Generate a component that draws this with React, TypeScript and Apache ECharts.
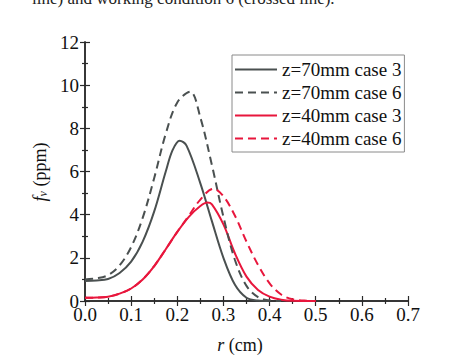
import React, { useEffect, useRef } from "react";
import * as echarts from "echarts";

// r (cm) and f_v (ppm)
const grey3X = [0, 0.025, 0.05, 0.075, 0.1, 0.125, 0.15, 0.175, 0.19, 0.205, 0.22, 0.25, 0.275, 0.3, 0.325, 0.35, 0.375, 0.4];
const grey3Y = [0.93, 0.95, 1.02, 1.3, 1.82, 2.75, 4.15, 6.0, 7.0, 7.43, 7.2, 5.45, 3.7, 2.0, 0.75, 0.15, 0.02, 0];

const grey6X = [0, 0.025, 0.05, 0.075, 0.1, 0.125, 0.15, 0.175, 0.2, 0.228, 0.25, 0.275, 0.3, 0.325, 0.35, 0.375, 0.4, 0.425];
const grey6Y = [1.0, 1.05, 1.2, 1.65, 2.5, 3.85, 5.7, 7.75, 9.2, 9.7, 8.5, 6.3, 3.9, 1.9, 0.7, 0.18, 0.03, 0];

const red3X = [0, 0.025, 0.05, 0.075, 0.1, 0.125, 0.15, 0.175, 0.2, 0.225, 0.25, 0.265, 0.275, 0.3, 0.325, 0.35, 0.375, 0.4, 0.425, 0.45, 0.5];
const red3Y = [0.15, 0.16, 0.2, 0.34, 0.58, 1.0, 1.62, 2.4, 3.2, 3.9, 4.4, 4.56, 4.48, 3.55, 2.2, 1.13, 0.51, 0.2, 0.06, 0.01, 0];

const red6X = [0, 0.025, 0.05, 0.075, 0.1, 0.125, 0.15, 0.175, 0.2, 0.225, 0.25, 0.278, 0.3, 0.325, 0.35, 0.375, 0.4, 0.425, 0.45, 0.475, 0.5];
const red6Y = [0.15, 0.16, 0.2, 0.34, 0.58, 1.0, 1.62, 2.4, 3.2, 3.95, 4.7, 5.2, 4.85, 3.95, 2.75, 1.67, 0.82, 0.3, 0.08, 0.02, 0];

const seriesNames = ["z=70mm case 3", "z=70mm case 6", "z=40mm case 3", "z=40mm case 6"];
const xTicks = [0, 0.1, 0.2, 0.3, 0.4, 0.5, 0.6, 0.7];
const yTicks = [0, 2, 4, 6, 8, 10, 12];

const GREY = "#4a5050";
const RED = "#e8163c";
const FONT = "Liberation Serif";

const pairs = (xs: number[], ys: number[]) => xs.map((x, i) => [x, ys[i]]);

export default function App() {
  const ref = useRef<HTMLDivElement>(null);
  useEffect(() => {
    if (!ref.current) return;
    const chart = echarts.init(ref.current, undefined, { renderer: "svg" });
    const axisLine = { show: true, lineStyle: { color: "#2a2a2a", width: 1.5 } };
    const tick = { show: true, inside: true, length: 5, lineStyle: { color: "#2a2a2a", width: 1.2 } };
    const minor = { show: true, splitNumber: 2, length: 3, lineStyle: { color: "#2a2a2a", width: 1.2 } };
    const xBase = {
      type: "value",
      min: xTicks[0],
      max: xTicks[xTicks.length - 1],
      interval: 0.1,
      axisLine,
      axisTick: tick,
      minorTick: minor,
      splitLine: { show: false },
    };
    const yBase = {
      type: "value",
      min: yTicks[0],
      max: yTicks[yTicks.length - 1],
      interval: 2,
      axisLine,
      axisTick: tick,
      minorTick: minor,
      splitLine: { show: false },
    };
    const mk = (name: string, xs: number[], ys: number[], color: string, dashed: boolean) => ({
      name,
      type: "line",
      data: pairs(xs, ys),
      smooth: 0.35,
      symbol: "none",
      showSymbol: false,
      lineStyle: { color, width: 2, type: dashed ? [8, 5] : "solid" },
      itemStyle: { color },
      z: dashed ? 3 : 2,
    });
    chart.setOption({
      animation: false,
      backgroundColor: "#ffffff",
      textStyle: { fontFamily: FONT },
      grid: { left: 85, right: 66, top: 42, bottom: 61 },
      xAxis: [
        {
          ...xBase,
          position: "bottom",
          axisLabel: {
            show: true,
            color: "#111",
            fontSize: 19,
            fontFamily: FONT,
            margin: 4,
            formatter: (v: number) => v.toFixed(1),
          },
        },
        { ...xBase, position: "top", axisLabel: { show: false } },
      ],
      yAxis: [
        {
          ...yBase,
          position: "left",
          axisLabel: {
            show: true,
            color: "#111",
            fontSize: 19,
            fontFamily: FONT,
            margin: 6,
          },
        },
        { ...yBase, position: "right", axisLabel: { show: false } },
      ],
      legend: {
        show: true,
        data: seriesNames,
        orient: "vertical",
        left: 232,
        top: 55,
        padding: [5, 3, 4, 2],
        itemWidth: 42,
        itemHeight: 14,
        itemGap: 4,
        borderColor: "#8a8a8a",
        borderWidth: 1,
        backgroundColor: "#ffffff",
        itemStyle: { opacity: 0 },
        textStyle: { color: "#111", fontFamily: FONT, fontSize: 19 },
      },
      series: [
        mk(seriesNames[0], grey3X, grey3Y, GREY, false),
        mk(seriesNames[1], grey6X, grey6Y, GREY, true),
        mk(seriesNames[2], red3X, red3Y, RED, false),
        mk(seriesNames[3], red6X, red6Y, RED, true),
      ],
      graphic: [
        {
          type: "text",
          left: 32,
          top: -10,
          style: {
            text: "line) and working condition 6 (crossed line).",
            fontFamily: FONT,
            fontSize: 17,
            fill: "#222",
          },
        },
        {
          type: "text",
          x: 240,
          y: 345,
          style: {
            text: "{i|r} (cm)",
            align: "center",
            verticalAlign: "middle",
            fontFamily: FONT,
            fontSize: 18,
            fill: "#111",
            rich: { i: { fontStyle: "italic", fontFamily: FONT, fontSize: 18, fill: "#111" } },
          },
        },
        {
          type: "text",
          x: 40,
          y: 172,
          rotation: Math.PI / 2,
          style: {
            text: "{i|f}{s|v} (ppm)",
            align: "center",
            verticalAlign: "middle",
            fontFamily: FONT,
            fontSize: 18,
            fill: "#111",
            rich: {
              i: { fontStyle: "italic", fontFamily: FONT, fontSize: 18, fill: "#111" },
              s: { fontStyle: "italic", fontFamily: FONT, fontSize: 12, fill: "#111", verticalAlign: "bottom", padding: [6, 0, 0, 0] },
            },
          },
        },
      ],
    });
    return () => chart.dispose();
  }, []);
  return (
    <div
      ref={ref}
      style={{ position: "fixed", left: 0, top: 0, width: 474, height: 362, background: "#fff" }}
    />
  );
}
